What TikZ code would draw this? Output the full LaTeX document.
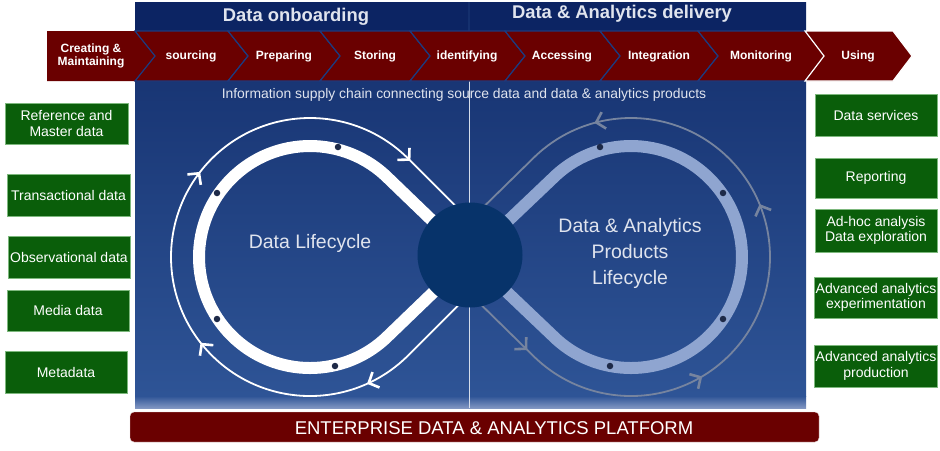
\documentclass[tikz,border=0pt]{standalone}
\usepackage{fontspec}
\setmainfont{Liberation Sans}
\usetikzlibrary{arrows.meta,decorations.markings}
\definecolor{navyhead}{HTML}{0C2463}
\definecolor{paneltop}{HTML}{132E6C}
\definecolor{panelbot}{HTML}{2E5496}
\definecolor{panelfade}{HTML}{8196C2}
\definecolor{maroonc}{HTML}{6A0000}
\definecolor{gboxc}{HTML}{0A5E0A}
\definecolor{gborder}{HTML}{7DB87D}
\definecolor{hubc}{HTML}{07336A}
\definecolor{bandc}{HTML}{8FA5D0}
\definecolor{greyline}{HTML}{76849F}
\definecolor{dotc}{HTML}{1E2A48}
\definecolor{sepc}{HTML}{1D3A7E}
\definecolor{headtxt}{HTML}{E0E4EE}
\tikzset{
  wbarb/.tip={Straight Barb[length=8pt,width=17pt,line width=2.6pt,color=white]},
  gbarb/.tip={Straight Barb[length=8pt,width=17pt,line width=2.6pt,color=greyline]},
  gbox/.style={draw=gborder, line width=0.7pt, fill=gboxc, text=white, align=center,
    inner sep=1pt, font=\fontsize{14}{15.5}\selectfont},
  chevtxt/.style={text=white, align=center, font=\bfseries\fontsize{12}{13.5}\selectfont},
  chev/.style={fill=maroonc, draw=sepc, line width=1.2pt, line join=miter},
  dotn/.style={circle, fill=dotc, inner sep=0pt, minimum size=6.5pt},
  bigtxt/.style={text=headtxt, align=center, font=\fontsize{19.5}{26}\selectfont},
}
\begin{document}
\begin{tikzpicture}[x=1pt,y=-1pt]
\useasboundingbox (0,0) rectangle (940,450);
\fill[white] (0,0) rectangle (940,450);

% blue panel
\shade[top color=paneltop, bottom color=panelbot] (135,2) rectangle (806,396);
\shade[top color=panelbot, bottom color=panelfade] (135,396) rectangle (806,408);
\fill[navyhead] (135,2) rectangle (468,31);
\fill[navyhead] (470,2) rectangle (806,31);
\draw[white!80!panelbot, line width=0.8pt] (469,31) -- (469,408);

\node[text=headtxt, font=\bfseries\fontsize{18.4}{20}\selectfont] (onb) at (296,17) {Data onboarding};
\node[text=headtxt, font=\bfseries\fontsize{18.4}{20}\selectfont] (deliv) at (622,14) {Data \& Analytics delivery};

% chevrons
\fill[maroonc] (47,31) -- (135,31) -- (155,56) -- (135,81) -- (47,81) -- cycle;
\foreach \a/\b in {135/228,228/320,320/410,410/505,505/600,600/698,698/805}{
  \path[chev] (\a,31) -- (\b,31) -- (\b+20,56) -- (\b,81) -- (\a,81) -- (\a+20,56) -- cycle;
}
\path[chev, draw=white] (805,31) -- (893,31) -- (912,56) -- (893,81) -- (805,81) -- (824,56) -- cycle;
\node[chevtxt] (c0) at (91,56) {Creating \&\\Maintaining};
\node[chevtxt] (c1) at (191,56) {sourcing};
\node[chevtxt] (c2) at (284,56) {Preparing};
\node[chevtxt] (c3) at (375,56) {Storing};
\node[chevtxt] (c4) at (467,56) {identifying};
\node[chevtxt] (c5) at (562,56) {Accessing};
\node[chevtxt] (c6) at (659,56) {Integration};
\node[chevtxt] (c7) at (761,56) {Monitoring};
\node[chevtxt] (c8) at (858,56) {Using};

\node[text=headtxt, font=\fontsize{13.9}{16}\selectfont] (sub) at (464,95)
  {Information supply chain connecting source data and data \& analytics products};

% outer thin loops
\draw[white, line width=1.8pt, postaction={decorate}, decoration={markings,
   mark=at position 0.152 with {\arrow{wbarb}},
   mark=at position 0.384 with {\arrow{wbarb}},
   mark=at position 0.615 with {\arrow{wbarb}},
   mark=at position 0.915 with {\arrow{wbarb}}}]
  (458.3,305.3) -- (408.3,355.3) arc[start angle=45,end angle=315,radius=139] -- (458.3,208.7);
\draw[greyline, line width=1.8pt, postaction={decorate}, decoration={markings,
   mark=at position 0.08 with {\arrow{gbarb}},
   mark=at position 0.32 with {\arrow{gbarb}},
   mark=at position 0.568 with {\arrow{gbarb}},
   mark=at position 0.82 with {\arrow{gbarb}}}]
  (481.7,305.3) -- (532.7,355.3) arc[start angle=135,end angle=-135,radius=139] -- (481.7,208.7);

% bands
\draw[white, line width=12pt, line join=round]
  (470,257) -- (388.5,335.5) arc[start angle=45,end angle=315,radius=111] -- cycle;
\draw[bandc, line width=12pt, line join=round]
  (470,257) -- (552.5,335.5) arc[start angle=135,end angle=-135,radius=111] -- cycle;

% dots
\node[dotn] (d1) at (338,147) {};
\node[dotn] (d2) at (217,193) {};
\node[dotn] (d3) at (217,319) {};
\node[dotn] (d4) at (335,366) {};
\node[dotn] (d5) at (600,147) {};
\node[dotn] (d6) at (723,193) {};
\node[dotn] (d7) at (723,319) {};
\node[dotn] (d8) at (610,366) {};

% hub
\node[circle, fill=hubc, minimum size=105pt, inner sep=0pt] (hub) at (470,255) {};

\node[bigtxt] (dl) at (310,243) {Data Lifecycle};
\node[bigtxt] (dapl) at (630,253) {Data \& Analytics\\Products\\Lifecycle};

% left green boxes
\node[gbox, minimum width=123pt, minimum height=41pt] (ref) at (66.5,123.5) {Reference and\\Master data};
\node[gbox, minimum width=123pt, minimum height=42pt] (trans) at (68.5,195) {Transactional data};
\node[gbox, minimum width=122pt, minimum height=42pt] (obs) at (69,257) {Observational data};
\node[gbox, minimum width=122pt, minimum height=41pt] (media) at (68,310.5) {Media data};
\node[gbox, minimum width=122pt, minimum height=42pt] (meta) at (66,372) {Metadata};

% right green boxes
\node[gbox, minimum width=122pt, minimum height=42pt] (dserv) at (876,115) {Data services};
\node[gbox, minimum width=122pt, minimum height=40pt] (rep) at (876,178) {Reporting};
\node[gbox, minimum width=122pt, minimum height=43pt] (adhoc) at (876,230.5) {Ad-hoc analysis\\Data exploration};
\node[gbox, minimum width=122pt, minimum height=41pt] (aexp) at (876,297.5) {Advanced analytics\\experimentation};
\node[gbox, minimum width=122pt, minimum height=42pt] (aprod) at (876,366) {Advanced analytics\\production};

% platform bar
\node[fill=maroonc, draw=white!85!maroonc, rounded corners=4pt, minimum width=689pt, minimum height=30pt, inner sep=0pt] (platform) at (474.5,427) {};
\node[text=white, font=\fontsize{18.5}{20}\selectfont] (platformtxt) at (494,428) {ENTERPRISE DATA \& ANALYTICS PLATFORM};
\end{tikzpicture}
\end{document}
